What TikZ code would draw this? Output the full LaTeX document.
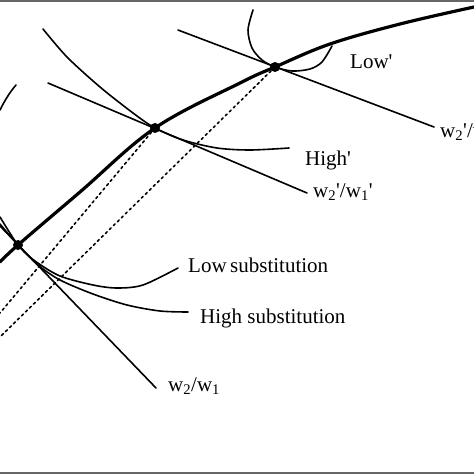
\documentclass[tikz,border=0pt]{standalone}
\usepackage{fontspec}
\newfontfamily\labelfont{Liberation Serif}
\usetikzlibrary{calc}

\begin{document}
\begin{tikzpicture}[x=1pt,y=-1pt,line cap=round,
    thinline/.style={line width=1.6pt},
    pathline/.style={line width=3.2pt},
    dotline/.style={line width=1.6pt,dash pattern=on 2.4pt off 3.2pt},
    tangent/.style={circle,fill=black,inner sep=0pt,minimum size=10pt},
    lbl/.style={anchor=base west,inner sep=0pt,font=\labelfont\fontsize{21}{24}\selectfont}]
    \useasboundingbox (0,0) rectangle (474,474);
    \fill[black!60] (0,0) rectangle (474,2);
    \fill[black!60] (0,472) rectangle (474,474);
    % tangency points
    \coordinate (E1) at (18,245);
    \coordinate (E2) at (155,128);
    \coordinate (E3) at (275,67);
    % ends of the price lines
    \coordinate (B1s) at (0,226);
    \coordinate (B1e) at (156,388);
    \coordinate (B2s) at (48,83);
    \coordinate (B2e) at (307,193);
    \coordinate (B3s) at (178,30);
    \coordinate (B3e) at (434,127);
    \coordinate (D1) at (0,313);
    \coordinate (D2) at (0,337);
    \draw[dotline] (E2)--(D1);
    \draw[dotline] (E3)--(D2);
    \draw[thinline] (B1s)--(B1e);
    \draw[thinline] (B2s)--(B2e);
    \draw[thinline] (B3s)--(B3e);
    % isoquants
    \draw[thinline] (0,110) .. controls (5,100) and (10,92) .. (16,85);
    \draw[thinline] plot[smooth] coordinates {(253,10) (248,30) (252,48) (262,60) (E3) (292,71) (310,69) (322,62) (332,46)};
    \draw[thinline] plot[smooth] coordinates {(43,29) (67,57) (100,87) (133,113) (E2) (183,140) (217,148) (250,150) (289,148)};
    \draw[thinline] plot[smooth] coordinates {(0,217) (E1) (35,261) (60,276) (93,285) (117,288) (143,285) (178,268)};
    \draw[thinline] plot[smooth] coordinates {(0,224) (E1) (38,265) (60,280) (93,294) (127,305) (160,311) (188,312)};
    % expansion path
    \draw[pathline] plot[smooth,tension=0.6] coordinates {(0,262) (E1) (80,192) (E2) (240,83) (E3) (330,44) (400,24) (474,7)};
    \node[tangent] (p1) at (E1) {};
    \node[tangent] (p2) at (E2) {};
    \node[tangent] (p3) at (E3) {};
    \node[lbl] (lowp) at (350,68) {Low'};
    \node[lbl] (pricep) at (440,137) {w\textsubscript{2}'/w\textsubscript{1}'};
    \node[lbl] (highp) at (305,165) {High'};
    \node[lbl] (price2) at (313,197) {w\textsubscript{2}'/w\textsubscript{1}'};
    \node[lbl] (lowsub) at (188,272) {Low\,substitution};
    \node[lbl] (highsub) at (200,323) {High substitution};
    \node[lbl] (price1) at (168,391) {w\textsubscript{2}/w\textsubscript{1}};
\end{tikzpicture}
\end{document}
